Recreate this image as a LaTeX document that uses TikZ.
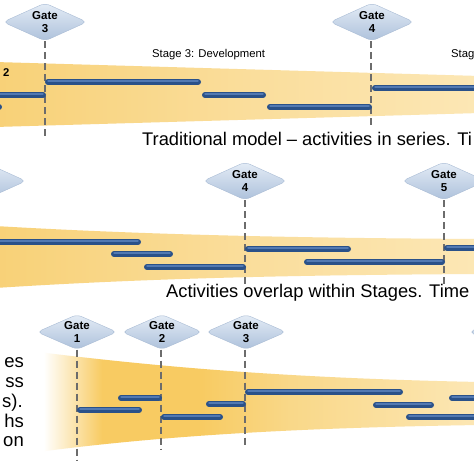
\documentclass[tikz,border=0pt]{standalone}
\usepackage{fontspec}
\setmainfont{Liberation Sans}
\usetikzlibrary{shapes.geometric}
\definecolor{barblue}{HTML}{2A5189}
\definecolor{barhi}{HTML}{5279B2}
\definecolor{gatetop}{HTML}{E4ECF6}
\definecolor{gatebot}{HTML}{ADC1DB}
\definecolor{gateedge}{HTML}{A9BCD5}
\definecolor{dashgray}{HTML}{6C6C6C}
\definecolor{bandDeep}{HTML}{F8CB62}
\definecolor{bandDeepB}{HTML}{F8D177}
\definecolor{bandMid}{HTML}{F9D889}
\definecolor{bandMidB}{HTML}{FADD9A}
\definecolor{bandLight}{HTML}{FCE7B5}
\pgfdeclarehorizontalshading{bandone}{100bp}{color(0bp)=(bandDeepB); color(25bp)=(bandDeepB); color(50bp)=(bandMidB); color(75bp)=(bandLight); color(100bp)=(bandLight)}
\pgfdeclarehorizontalshading{bandthree}{100bp}{color(0bp)=(white); color(25bp)=(white); color(26.5bp)=(white); color(33bp)=(bandDeep); color(44bp)=(bandDeep); color(54bp)=(bandMid); color(75bp)=(bandLight); color(100bp)=(bandLight)}
\tikzset{
  gate/.style={diamond, aspect=2.3, minimum width=84pt, minimum height=38pt, inner sep=0pt,
    top color=gatetop, bottom color=gatebot, draw=gateedge, line width=0.4pt, rounded corners=5pt,
    font=\bfseries\fontsize{11.5}{13}\selectfont, align=center, text=black},
  gatesmall/.style={gate, minimum width=80pt, minimum height=35pt},
  dashline/.style={draw=dashgray, line width=2.2pt, dash pattern=on 7pt off 4pt},
  bar/.style={draw=barblue, line width=6pt, line cap=round,
    postaction={draw=barhi, line width=1.5pt, line cap=round, transform canvas={yshift=0.8pt}}},
  caption/.style={inner sep=0pt, anchor=base west, text=black},
  sidetext/.style={inner sep=0pt, anchor=base east, text=black, font=\fontsize{18.5}{18.5}\selectfont},
  stagetext/.style={inner sep=0pt, anchor=base west, text=black, font=\fontsize{11.3}{11.3}\selectfont}
}
\begin{document}
\begin{tikzpicture}[x=1pt, y=-1pt]
\useasboundingbox (0,0) rectangle (474,474);
\clip (0,0) rectangle (474,474);
\fill[white] (0,0) rectangle (474,474);
% ---------- bands ----------
\shade[shading=bandone] (-5,62) -- (480,76) -- (480,113) -- (-5,127) -- cycle;
\shade[shading=bandone] (-5,226) .. controls (150,235) and (300,238) .. (480,239)
  -- (480,274) .. controls (300,275) and (150,278) .. (-5,288) -- cycle;
\shade[shading=bandthree] (30,351) .. controls (150,366) and (280,378) .. (480,382)
  -- (480,425) .. controls (280,428) and (150,437) .. (30,453) -- cycle;
% ---------- gates ----------
\node[gate] (p1g3) at (45,22) {Gate\\3};
\node[gate] (p1g4) at (372,22) {Gate\\4};
\node[gate] (p2g3) at (-16,181) {};
\node[gate] (p2g4) at (245,181) {Gate\\4};
\node[gate] (p2g5) at (444,181) {Gate\\5};
\node[gatesmall] (p3g1) at (77,332) {Gate\\1};
\node[gatesmall] (p3g2) at (162,332) {Gate\\2};
\node[gatesmall] (p3g3) at (246,332) {Gate\\3};
\node[gatesmall] (p3g4) at (509,332) {};
% ---------- dashed gate lines ----------
\coordinate (e1g3) at (45,137);
\coordinate (e1g4) at (371,125);
\coordinate (e2g4) at (245,287);
\coordinate (e2g5) at (444,284);
\coordinate (e3g1) at (77,460);
\coordinate (e3g2) at (161,450);
\coordinate (e3g3) at (245,445);
\draw[dashline] (p1g3.south) -- (e1g3);
\draw[dashline] (p1g4.south -| e1g4) -- (e1g4);
\draw[dashline] (p2g4.south) -- (e2g4);
\draw[dashline] (p2g5.south) -- (e2g5);
\draw[dashline] (p3g1.south) -- (e3g1);
\draw[dashline] (p3g2.south -| e3g2) -- (e3g2);
\draw[dashline] (p3g3.south -| e3g3) -- (e3g3);
% ---------- activity bars ----------
% panel 1
\draw[bar] (-5,95) -- (43,95);
\draw[bar] (-10,107) -- (-1,107);
\draw[bar] (48,82) -- (198,82);
\draw[bar] (205,95) -- (263,95);
\draw[bar] (270,107) -- (369,107);
\draw[bar] (375,88) -- (480,88);
% panel 2
\draw[bar] (-5,242) -- (138,242);
\draw[bar] (114,254) -- (170,254);
\draw[bar] (147,267) -- (243,267);
\draw[bar] (248,249) -- (348,249);
\draw[bar] (307,262) -- (442,262);
\draw[bar] (447,248) -- (480,248);
% panel 3
\draw[bar] (80,410) -- (139,410);
\draw[bar] (121,398) -- (159,398);
\draw[bar] (164,417) -- (220,417);
\draw[bar] (209,404) -- (243,404);
\draw[bar] (248,392) -- (400,392);
\draw[bar] (376,405) -- (431,405);
\draw[bar] (409,417) -- (480,417);
\draw[bar] (452,398) -- (480,398);
% ---------- texts ----------
\node[stagetext, font=\bfseries\fontsize{11.3}{11.3}\selectfont] (lbl2) at (3,76) {2};
\node[stagetext] (st3) at (152,57) {Stage 3: Development};
\node[stagetext] (st4) at (451,57) {Stag};
\node[caption, font=\fontsize{18.3}{18.3}\selectfont] (cap1) at (142,145) {Traditional model – activities in series. Ti};
\node[caption, font=\fontsize{18.3}{18.3}\selectfont] (cap2) at (166,297) {Activities overlap within Stages. Time};
\node[sidetext] (s1) at (24,367) {es};
\node[sidetext] (s2) at (24,387) {ss};
\node[sidetext] (s3) at (23,407) {s).};
\node[sidetext] (s4) at (24,427) {hs};
\node[sidetext] (s5) at (24,446) {on};
\end{tikzpicture}
\end{document}
